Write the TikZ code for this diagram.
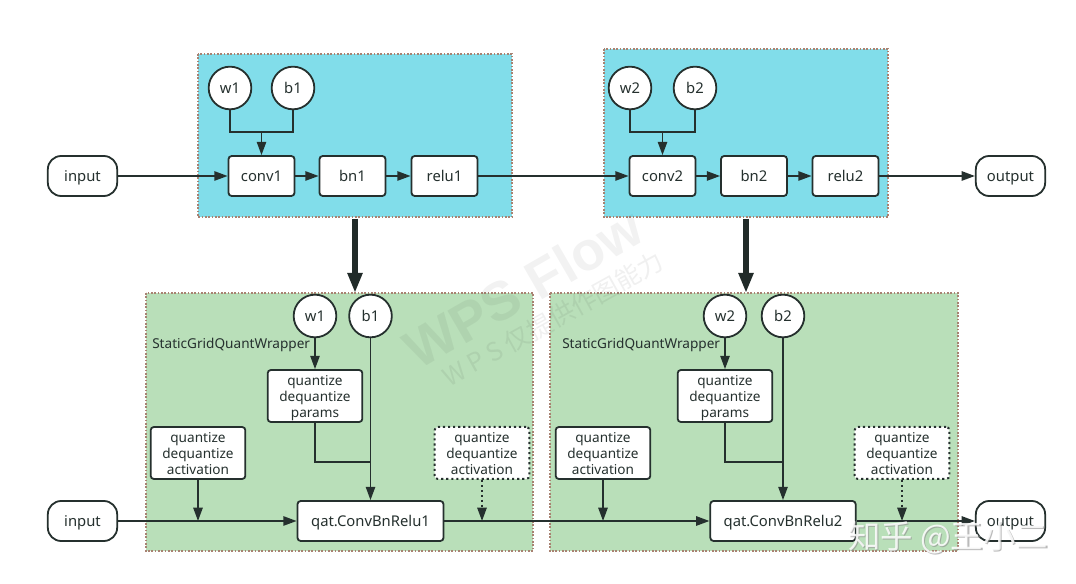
\documentclass[tikz,border=0pt]{standalone}
\usepackage{fontspec}
\setmainfont{Noto Sans}
\newfontfamily\cjk{Noto Sans CJK SC}
\newfontfamily\wmfont{Liberation Sans}
\usetikzlibrary{arrows.meta,calc}
\definecolor{ink}{HTML}{25302E}
\definecolor{cyanbg}{HTML}{81DDEA}
\definecolor{greenbg}{HTML}{B9DFB9}
\definecolor{frameedge}{HTML}{A88272}
\tikzset{
 x=0.75pt,y=-0.75pt,
 panel/.style={draw=frameedge,line width=1.1pt,dash pattern=on 1.2pt off 1.3pt},
 base/.style={draw=ink,fill=white,line width=1.35pt,text=ink,font=\fontsize{11.1}{12}\selectfont,align=center,inner sep=0,text height=10.5pt,text depth=1.5pt},
 box/.style={base,rounded corners=2.4pt,minimum width=49.5pt,minimum height=30pt},
 pill/.style={base,rounded corners=10pt,minimum width=52pt,minimum height=30pt},
 ball/.style={base,circle,minimum size=32pt},
 qbox/.style={base,rounded corners=2.4pt,minimum width=71pt,minimum height=39pt,font=\fontsize{10.2}{12}\selectfont,text height={},text depth=0pt},
 qatbox/.style={base,rounded corners=2.4pt,minimum height=30pt},
 arr/.style={draw=ink,line width=1.35pt,-{Triangle[length=10pt,width=7pt]}},
 plain/.style={draw=ink,line width=1.35pt},
 dotarr/.style={draw=ink,line width=1.35pt,dash pattern=on 1.5pt off 2.2pt,-{Triangle[length=10pt,width=7pt]}},
 dotbox/.style={qbox,line width=1.5pt,dash pattern=on 1.6pt off 2.2pt},
 heavy/.style={draw=ink!90!black,line width=4pt,-{Triangle[length=15pt,width=10.5pt]}},
 wrap/.style={text=ink,font=\fontsize{10.2}{12}\selectfont,inner sep=0},
}
\begin{document}
\begin{tikzpicture}
\useasboundingbox (0,0) rectangle (1076,584);
\fill[white] (0,0) rectangle (1076,584);
% panels
\coordinate (pa1) at (198,54); \coordinate (pa2) at (512,217);
\coordinate (pb1) at (604,49); \coordinate (pb2) at (888,217);
\coordinate (pc1) at (146,293); \coordinate (pc2) at (533,551);
\coordinate (pd1) at (550,293); \coordinate (pd2) at (958,551);
\fill[cyanbg] (pa1) rectangle (pa2);
\fill[cyanbg] (pb1) rectangle (pb2);
\fill[greenbg] (pc1) rectangle (pc2);
\fill[greenbg] (pd1) rectangle (pd2);
\draw[panel] (pa1) rectangle (pa2);
\draw[panel] (pb1) rectangle (pb2);
\draw[panel] (pc1) rectangle (pc2);
\draw[panel] (pd1) rectangle (pd2);
% watermark
\node[rotate=30,text=black,opacity=0.05,font=\wmfont\bfseries\fontsize{41}{44}\selectfont] (wmA) at (523,288) {WPS Flow};
\node[rotate=29,text=black,opacity=0.06,font=\cjk\fontsize{19}{22}\selectfont] (wmB) at (553,319) {W P S 仅提供作图能力};
% top row
\node[pill] (in1) at (82.5,176) {input};
\node[box] (conv1) at (261.5,176) {conv1};
\node[box] (bn1) at (352.5,176) {bn1};
\node[box] (relu1) at (444.5,176) {relu1};
\node[ball] (w1) at (230,88) {w1};
\node[ball] (b1) at (293,88) {b1};
\node[box] (conv2) at (662.5,176) {conv2};
\node[box] (bn2) at (754,176) {bn2};
\node[box] (relu2) at (845.5,176) {relu2};
\node[ball] (w2) at (630,88) {w2};
\node[ball] (b2) at (695,88) {b2};
\node[pill] (out1) at (1010.5,176) {output};
\draw[arr] (in1) -- (conv1);
\draw[arr] (conv1) -- (bn1);
\draw[arr] (bn1) -- (relu1);
\draw[arr] (relu1) -- (conv2);
\draw[arr] (conv2) -- (bn2);
\draw[arr] (bn2) -- (relu2);
\draw[arr] (relu2) -- (out1);
\coordinate (j1) at (conv1.north|-0,132);
\coordinate (j2) at (conv2.north|-0,132);
\draw[plain] (w1.south) |- (b1.south|-j1) -- (b1.south);
\draw[arr] (j1) -- (conv1.north);
\draw[plain] (w2.south) |- (b2.south|-j2) -- (b2.south);
\draw[arr] (j2) -- (conv2.north);
% thick
\coordinate (ta) at (355,219); \coordinate (tb) at (355,293);
\coordinate (tc) at (746,219); \coordinate (td) at (746,293);
\draw[heavy] (ta) -- (tb);
\draw[heavy] (tc) -- (td);
% bottom row
\node[pill] (in2) at (82.5,521) {input};
\node[qatbox,minimum width=109.5pt] (qat1) at (370.5,521) {qat.ConvBnRelu1};
\node[qatbox,minimum width=109pt] (qat2) at (783,521) {qat.ConvBnRelu2};
\node[pill] (out2) at (1010.5,521) {output};
\node[ball] (w1q) at (315,316) {w1};
\node[ball] (b1q) at (370.5,316) {b1};
\node[ball] (w2q) at (725,316) {w2};
\node[ball] (b2q) at (783,316) {b2};
\node[wrap,anchor=west] (sg1) at (152,345) {StaticGridQuantWrapper};
\node[wrap,anchor=west] (sg2) at (562,345) {StaticGridQuantWrapper};
\node[qbox] (qp1) at (315,396) {quantize\\dequantize\\params};
\node[qbox] (qp2) at (725,396) {quantize\\dequantize\\params};
\node[qbox] (qa1) at (198,453) {quantize\\dequantize\\activation};
\node[qbox] (qa2) at (603,453) {quantize\\dequantize\\activation};
\node[dotbox] (qd1) at (482,453) {quantize\\dequantize\\activation};
\node[dotbox] (qd2) at (902,453) {quantize\\dequantize\\activation};
\draw[arr] (in2) -- (qat1);
\draw[arr] (qat1) -- (qat2);
\draw[arr] (qat2) -- (out2);
\draw[arr] (w1q) -- (qp1);
\draw[arr] (w2q) -- (qp2);
\draw[arr] (b1q) -- (qat1);
\draw[arr] (b2q) -- (qat2);
\coordinate (m1) at (b1q.south|-0,462);
\coordinate (m2) at (b2q.south|-0,462);
\draw[plain] (qp1.south) |- (m1);
\draw[plain] (qp2.south) |- (m2);
\draw[arr] (qa1.south) -- (qa1.south|-in2);
\draw[arr] (qa2.south) -- (qa2.south|-in2);
\draw[dotarr] (qd1.south) -- (qd1.south|-in2);
\draw[dotarr] (qd2.south) -- (qd2.south|-in2);
% zhihu watermark
\node[font=\cjk\fontsize{24.3}{28}\selectfont,text=black!45,opacity=0.6,inner sep=0] (zhs) at (949.5,538.5) {知乎 @王小二};
\node[font=\cjk\fontsize{24.3}{28}\selectfont,text=white,opacity=0.85,inner sep=0] (zh) at (948,537.5) {知乎 @王小二};
\end{tikzpicture}
\end{document}
